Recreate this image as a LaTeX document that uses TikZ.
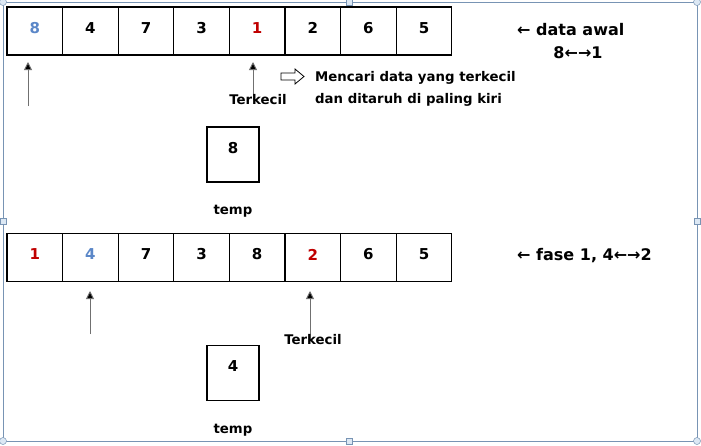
\documentclass[tikz,border=0pt]{standalone}
\usepackage{fontspec}
\setmainfont{DejaVu Sans}
\usetikzlibrary{arrows.meta,calc}
\definecolor{framec}{HTML}{7894B4}
\definecolor{handlec}{HTML}{DCE8F4}
\definecolor{numblue}{HTML}{5B87C8}
\definecolor{numred}{HTML}{C00000}
\definecolor{linegray}{HTML}{707070}
\tikzset{
  cell/.style={draw=black, line width=1.3pt, minimum width=55.6pt, minimum height=48pt, inner sep=0pt},
  num/.style={font=\bfseries\fontsize{15}{17}\selectfont, inner sep=0pt},
  tempbox/.style={draw=black, line width=1.3pt, minimum width=52pt, minimum height=55pt, inner sep=0pt},
  lbl/.style={font=\bfseries\fontsize{13.3}{16}\selectfont, inner sep=0pt},
  bigl/.style={font=\bfseries\fontsize{16}{19}\selectfont, inner sep=0pt},
  ptr/.style={draw=linegray, line width=0.9pt, -{Triangle[length=8pt,width=8pt,fill=black]}},
  handle/.style={draw=framec, fill=handlec, line width=0.5pt, minimum size=6pt, inner sep=0pt},
}
\begin{document}
\begin{tikzpicture}[x=1pt,y=-1pt]
\useasboundingbox (0,0) rectangle (701,445);
\fill[white] (0,0) rectangle (701,445);
% frame
\draw[framec, line width=1pt] (3,2) rectangle (697,441);
\foreach \p/\n in {{(349,2)}/ht, {(3,221)}/hl, {(697,221)}/hr, {(349,441)}/hb}
  \node[handle] (\n) at \p {};
\foreach \p/\n in {{(3,2)}/c1, {(697,2)}/c2, {(3,441)}/c3, {(697,441)}/c4}
  \node[handle, circle, minimum size=7pt] (\n) at \p {};
% top row
\foreach \v [count=\i] in {8,4,7,3,1,2,6,5}
  \node[cell] (a\i) at ({7+55.6*(\i-0.5)},31) {};
\node[num, text=numblue] at ($(a1)+(0,-3)$) {8};
\node[num] at ($(a2)+(0,-3)$) {4};
\node[num] at ($(a3)+(0,-3)$) {7};
\node[num] at ($(a4)+(0,-3)$) {3};
\node[num, text=numred] at ($(a5)+(0,-3)$) {1};
\node[num] at ($(a6)+(0,-3)$) {2};
\node[num] at ($(a7)+(0,-3)$) {6};
\node[num] at ($(a8)+(0,-3)$) {5};
% pointers top
\coordinate (p1t) at (28,106);
\coordinate (p1h) at (28,62);
\coordinate (p2t) at (253,100);
\coordinate (p2h) at (253,62);
\draw[ptr] (p1t) -- (p1h);
\draw[ptr] (p2t) -- (p2h);
\node[lbl] (terk1) at (258,100) {Terkecil};
% hollow arrow
\draw[black, line width=0.8pt, fill=white] (281,73) -- (295,73) -- (295,69) -- (304,76.5) -- (295,84) -- (295,80) -- (281,80) -- cycle;
\node[lbl, anchor=west] (desc1) at (315,78) {Mencari data yang terkecil};
\node[lbl, anchor=west] (desc2) at (315,100) {dan ditaruh di paling kiri};
\node[bigl, anchor=west] (awal) at (517,30) {← data awal};
\node[bigl] (swap1) at (578,53) {8←→1};
% temp 1
\node[tempbox] (t1) at (233,154.5) {};
\node[num] at (233,148) {8};
\node[lbl] (temp1) at (233,211) {temp};
% second row
\foreach \v [count=\i] in {1,4,7,3,8,2,6,5}
  \node[cell] (b\i) at ({7+55.6*(\i-0.5)},257.5) {};
\node[num, text=numred] at ($(b1)+(0,-3)$) {1};
\node[num, text=numblue] at ($(b2)+(0,-3)$) {4};
\node[num] at ($(b3)+(0,-3)$) {7};
\node[num] at ($(b4)+(0,-3)$) {3};
\node[num] at ($(b5)+(0,-3)$) {8};
\node[num, text=numred] at ($(b6)+(0,-3)$) {2};
\node[num] at ($(b7)+(0,-3)$) {6};
\node[num] at ($(b8)+(0,-3)$) {5};
\coordinate (q1t) at (90,334);
\coordinate (q1h) at (90,291);
\coordinate (q2t) at (310,340);
\coordinate (q2h) at (310,291);
\draw[ptr] (q1t) -- (q1h);
\draw[ptr] (q2t) -- (q2h);
\node[lbl] (terk2) at (313,340) {Terkecil};
\node[bigl, anchor=west] (fase) at (517,256) {← fase 1, 4←→2};
% temp 2
\node[tempbox] (t2) at (233,373) {};
\node[num] at (233,366) {4};
\node[lbl] (temp2) at (233,430) {temp};
\end{tikzpicture}
\end{document}
